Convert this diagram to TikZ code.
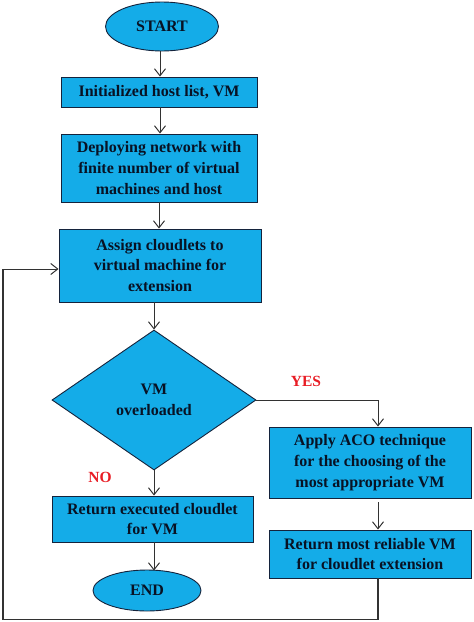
\documentclass[tikz,border=0pt]{standalone}
\usepackage{fontspec}
\setmainfont{Liberation Serif}
\usetikzlibrary{shapes.geometric,arrows.meta,calc}
\definecolor{boxfill}{RGB}{20,172,232}
\definecolor{boxline}{RGB}{20,35,60}
\definecolor{txt}{RGB}{8,18,36}
\definecolor{lbl}{RGB}{232,28,36}
\definecolor{conn}{RGB}{50,50,50}
\begin{document}
\begin{tikzpicture}[x=1pt,y=-1pt,
  base/.style={fill=boxfill,draw=boxline,line width=0.9pt,text=txt,
    font=\fontsize{16}{20.7}\selectfont\bfseries,align=center,inner sep=0pt},
  procbox/.style={base,rectangle},
  term/.style={base,ellipse},
  decide/.style={base,diamond},
  arr/.style={draw=conn,line width=1pt,-{Straight Barb[length=7pt,width=11pt,line width=1pt]}},
  ln/.style={draw=conn,line width=1.2pt},
  yn/.style={text=lbl,font=\fontsize{15.5}{18}\selectfont\bfseries}]
\useasboundingbox (0,0) rectangle (474,622);
\node[term,minimum width=113pt,minimum height=49pt] (start) at (162,26.5) {START};
\node[procbox,minimum width=196pt,minimum height=30pt] (b1) at (159,92) {Initialized host list, VM};
\node[procbox,minimum width=196pt,minimum height=68pt] (b2) at (159,168) {Deploying network with\\finite number of virtual\\machines and host};
\node[procbox,minimum width=202pt,minimum height=73pt] (b3) at (160,265.5) {Assign cloudlets to\\virtual machine for\\extension};
\node[decide,minimum width=204pt,minimum height=140pt] (d) at (154,400) {VM\\overloaded};
\node[procbox,minimum width=202pt,minimum height=71pt] (aco) at (370,462.5) {Apply ACO technique\\for the choosing of the\\most appropriate VM};
\node[procbox,minimum width=202pt,minimum height=48pt] (rm) at (370,554) {Return most reliable VM\\for cloudlet extension};
\node[procbox,minimum width=201pt,minimum height=46pt] (re) at (152.5,519) {Return executed cloudlet\\for VM};
\node[term,minimum width=108pt,minimum height=41pt] (end) at (147,590.5) {END};
\node[yn] (yes) at (306,381) {YES};
\node[yn] (no) at (100,477) {NO};
\coordinate (yx) at (378,0);
\coordinate (lx) at (3,0);
\coordinate (by) at (0,619.5);
\coordinate (ay) at (0,269);
\draw[arr] (start.south -| 160,0) -- (b1.north -| 160,0);
\draw[arr] (b1.south -| 160,0) -- (b2.north -| 160,0);
\draw[arr] (b2.south -| 159,0) -- (b3.north -| 159,0);
\draw[arr] (b3.south -| d.north) -- (d.north);
\draw[arr] (d.south) -- (d.south |- re.north);
\draw[arr] (re.south -| d.south) -- ($(d.south |- end.north)+(0,1)$);
\draw[arr] (d.east) -| (yx |- aco.north);
\draw[arr] ($(yx |- aco.south)+(0,4)$) -- (yx |- rm.north);
\draw[ln] (yx |- rm.south) -- (yx |- by) -- (lx |- by) -- (lx |- ay);
\draw[arr] (lx |- ay) -- (b3.west |- ay);
\end{tikzpicture}
\end{document}
